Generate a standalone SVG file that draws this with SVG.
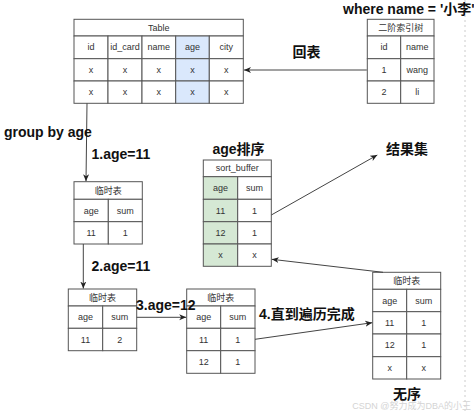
<svg xmlns="http://www.w3.org/2000/svg" width="474" height="411" viewBox="0 0 474 411">
<defs>
<style>
.b{fill:#fff;stroke:#555;stroke-width:1}
.blue{fill:#dae8fc;stroke:#555;stroke-width:1}
.green{fill:#d5e8d4;stroke:#555;stroke-width:1}
.t{font-family:"Liberation Sans","Noto Sans CJK SC",sans-serif;font-size:9px;fill:#333;text-anchor:middle;dominant-baseline:central}
.l{font-family:"Liberation Sans","Noto Sans CJK SC",sans-serif;font-size:14px;font-weight:bold;fill:#111;dominant-baseline:central}
.c{fill:none;stroke:#444;stroke-width:1}
</style>
<marker id="ar" markerWidth="8" markerHeight="8" refX="7" refY="4" orient="auto" markerUnits="userSpaceOnUse">
<path d="M0,1 L7,4 L0,7 L2,4 Z" fill="#222"/>
</marker>
</defs>
<rect width="474" height="411" fill="#fff"/>
<line x1="465" y1="0" x2="465" y2="411" stroke="#ccc" stroke-width="1" stroke-dasharray="2,3"/>

<g id="table">
<rect class="b" x="74" y="19.3" width="169.3" height="16.7"/>
<text class="t" x="158.7" y="28">Table</text>
<rect class="b" x="74" y="36" width="34" height="22.7"/>
<rect class="b" x="108" y="36" width="34" height="22.7"/>
<rect class="b" x="142" y="36" width="33.7" height="22.7"/>
<rect class="blue" x="175.7" y="36" width="33.6" height="22.7"/>
<rect class="b" x="209.3" y="36" width="34" height="22.7"/>
<rect class="b" x="74" y="58.7" width="34" height="22.3"/>
<rect class="b" x="108" y="58.7" width="34" height="22.3"/>
<rect class="b" x="142" y="58.7" width="33.7" height="22.3"/>
<rect class="blue" x="175.7" y="58.7" width="33.6" height="22.3"/>
<rect class="b" x="209.3" y="58.7" width="34" height="22.3"/>
<rect class="b" x="74" y="81" width="34" height="22.3"/>
<rect class="b" x="108" y="81" width="34" height="22.3"/>
<rect class="b" x="142" y="81" width="33.7" height="22.3"/>
<rect class="blue" x="175.7" y="81" width="33.6" height="22.3"/>
<rect class="b" x="209.3" y="81" width="34" height="22.3"/>
<text class="t" x="91" y="47.3">id</text>
<text class="t" x="125" y="47.3">id_card</text>
<text class="t" x="158.8" y="47.3">name</text>
<text class="t" x="192.5" y="47.3">age</text>
<text class="t" x="226.3" y="47.3">city</text>
<text class="t" x="91" y="69.8">x</text>
<text class="t" x="125" y="69.8">x</text>
<text class="t" x="158.8" y="69.8">x</text>
<text class="t" x="192.5" y="69.8">x</text>
<text class="t" x="226.3" y="69.8">x</text>
<text class="t" x="91" y="92.2">x</text>
<text class="t" x="125" y="92.2">x</text>
<text class="t" x="158.8" y="92.2">x</text>
<text class="t" x="192.5" y="92.2">x</text>
<text class="t" x="226.3" y="92.2">x</text>
</g>

<g id="index_tree">
<rect class="b" x="367.3" y="19.3" width="66.7" height="16.7"/>
<text class="t" x="400.7" y="28">二阶索引树</text>
<rect class="b" x="367.3" y="36" width="33.4" height="22.7"/>
<rect class="b" x="400.7" y="36" width="33.3" height="22.7"/>
<rect class="b" x="367.3" y="58.7" width="33.4" height="22.3"/>
<rect class="b" x="400.7" y="58.7" width="33.3" height="22.3"/>
<rect class="b" x="367.3" y="81" width="33.4" height="22.3"/>
<rect class="b" x="400.7" y="81" width="33.3" height="22.3"/>
<text class="t" x="384" y="47.3">id</text>
<text class="t" x="417.3" y="47.3">name</text>
<text class="t" x="384" y="69.8">1</text>
<text class="t" x="417.3" y="69.8">wang</text>
<text class="t" x="384" y="92.2">2</text>
<text class="t" x="417.3" y="92.2">li</text>
</g>

<g id="tmp1">
<rect class="b" x="74" y="181.7" width="68.3" height="17.6"/>
<text class="t" x="108.2" y="190.5">临时表</text>
<rect class="b" x="74" y="199.3" width="34.3" height="22.4"/>
<rect class="b" x="108.3" y="199.3" width="34" height="22.4"/>
<rect class="b" x="74" y="221.7" width="34.3" height="22.3"/>
<rect class="b" x="108.3" y="221.7" width="34" height="22.3"/>
<text class="t" x="91.2" y="210.5">age</text>
<text class="t" x="125.3" y="210.5">sum</text>
<text class="t" x="91.2" y="232.8">11</text>
<text class="t" x="125.3" y="232.8">1</text>
</g>

<g id="tmp2">
<rect class="b" x="68.3" y="289" width="68.4" height="17"/>
<text class="t" x="102.5" y="297.5">临时表</text>
<rect class="b" x="68.3" y="306" width="34.4" height="22.3"/>
<rect class="b" x="102.7" y="306" width="34" height="22.3"/>
<rect class="b" x="68.3" y="328.3" width="34.4" height="22.4"/>
<rect class="b" x="102.7" y="328.3" width="34" height="22.4"/>
<text class="t" x="85.5" y="317.2">age</text>
<text class="t" x="119.7" y="317.2">sum</text>
<text class="t" x="85.5" y="339.5">11</text>
<text class="t" x="119.7" y="339.5">2</text>
</g>

<g id="tmp3">
<rect class="b" x="186.7" y="289" width="68.3" height="17"/>
<text class="t" x="220.8" y="297.5">临时表</text>
<rect class="b" x="186.7" y="306" width="34" height="22.3"/>
<rect class="b" x="220.7" y="306" width="34.3" height="22.3"/>
<rect class="b" x="186.7" y="328.3" width="34" height="22.4"/>
<rect class="b" x="220.7" y="328.3" width="34.3" height="22.4"/>
<rect class="b" x="186.7" y="350.7" width="34" height="22.6"/>
<rect class="b" x="220.7" y="350.7" width="34.3" height="22.6"/>
<text class="t" x="203.7" y="317.2">age</text>
<text class="t" x="237.8" y="317.2">sum</text>
<text class="t" x="203.7" y="339.5">11</text>
<text class="t" x="237.8" y="339.5">1</text>
<text class="t" x="203.7" y="362">12</text>
<text class="t" x="237.8" y="362">1</text>
</g>

<g id="tmp4">
<rect class="b" x="372.7" y="272.3" width="68" height="17"/>
<text class="t" x="406.7" y="280.8">临时表</text>
<rect class="b" x="372.7" y="289.3" width="34" height="22.4"/>
<rect class="b" x="406.7" y="289.3" width="34" height="22.4"/>
<rect class="b" x="372.7" y="311.7" width="34" height="22.3"/>
<rect class="b" x="406.7" y="311.7" width="34" height="22.3"/>
<rect class="b" x="372.7" y="334" width="34" height="22.7"/>
<rect class="b" x="406.7" y="334" width="34" height="22.7"/>
<rect class="b" x="372.7" y="356.7" width="34" height="22.3"/>
<rect class="b" x="406.7" y="356.7" width="34" height="22.3"/>
<text class="t" x="389.7" y="300.5">age</text>
<text class="t" x="423.7" y="300.5">sum</text>
<text class="t" x="389.7" y="322.8">11</text>
<text class="t" x="423.7" y="322.8">1</text>
<text class="t" x="389.7" y="345.3">12</text>
<text class="t" x="423.7" y="345.3">1</text>
<text class="t" x="389.7" y="367.8">x</text>
<text class="t" x="423.7" y="367.8">x</text>
</g>

<g id="sort_buffer">
<rect class="b" x="203.3" y="160" width="68" height="16.7"/>
<text class="t" x="237.3" y="168.3">sort_buffer</text>
<rect class="green" x="203.3" y="176.7" width="34.4" height="22.6"/>
<rect class="b" x="237.7" y="176.7" width="33.6" height="22.6"/>
<rect class="green" x="203.3" y="199.3" width="34.4" height="22.4"/>
<rect class="b" x="237.7" y="199.3" width="33.6" height="22.4"/>
<rect class="green" x="203.3" y="221.7" width="34.4" height="22.3"/>
<rect class="b" x="237.7" y="221.7" width="33.6" height="22.3"/>
<rect class="green" x="203.3" y="244" width="34.4" height="22.3"/>
<rect class="b" x="237.7" y="244" width="33.6" height="22.3"/>
<text class="t" x="220.5" y="188">age</text>
<text class="t" x="254.5" y="188">sum</text>
<text class="t" x="220.5" y="210.5">11</text>
<text class="t" x="254.5" y="210.5">1</text>
<text class="t" x="220.5" y="232.8">12</text>
<text class="t" x="254.5" y="232.8">1</text>
<text class="t" x="220.5" y="255.2">x</text>
<text class="t" x="254.5" y="255.2">x</text>
</g>

<g id="connectors">
<line class="c" x1="366.8" y1="70" x2="244" y2="70" marker-end="url(#ar)"/>
<line class="c" x1="87" y1="103.3" x2="86" y2="181.2" marker-end="url(#ar)"/>
<line class="c" x1="83.3" y1="244" x2="83.3" y2="288.5" marker-end="url(#ar)"/>
<line class="c" x1="136.7" y1="317.3" x2="186.2" y2="317.3" marker-end="url(#ar)"/>
<line class="c" x1="255" y1="339.3" x2="372.2" y2="322.7" marker-end="url(#ar)"/>
<line class="c" x1="383" y1="272.3" x2="271.8" y2="259.3" marker-end="url(#ar)"/>
<line class="c" x1="271.3" y1="215" x2="377.3" y2="155" marker-end="url(#ar)"/>
</g>

<g id="labels">
<text class="l" x="343" y="8.5">where name = '小李'</text>
<text class="l" x="292.5" y="52">回表</text>
<text class="l" x="4" y="131.5">group by age</text>
<text class="l" x="91.5" y="153.5">1.age=11</text>
<text class="l" x="212.5" y="148.5">age排序</text>
<text class="l" x="386" y="148.5">结果集</text>
<text class="l" x="91.5" y="266">2.age=11</text>
<text class="l" x="136" y="305">3.age=12</text>
<text class="l" x="259" y="313.5">4.直到遍历完成</text>
<text class="l" x="393" y="393.5">无序</text>
<text x="471" y="405.5" font-family="Liberation Sans,'Noto Sans CJK SC',sans-serif" font-size="9px" fill="#d4d4d4" text-anchor="end" dominant-baseline="central">CSDN @努力成为DBA的小王</text>
</g>
</svg>
